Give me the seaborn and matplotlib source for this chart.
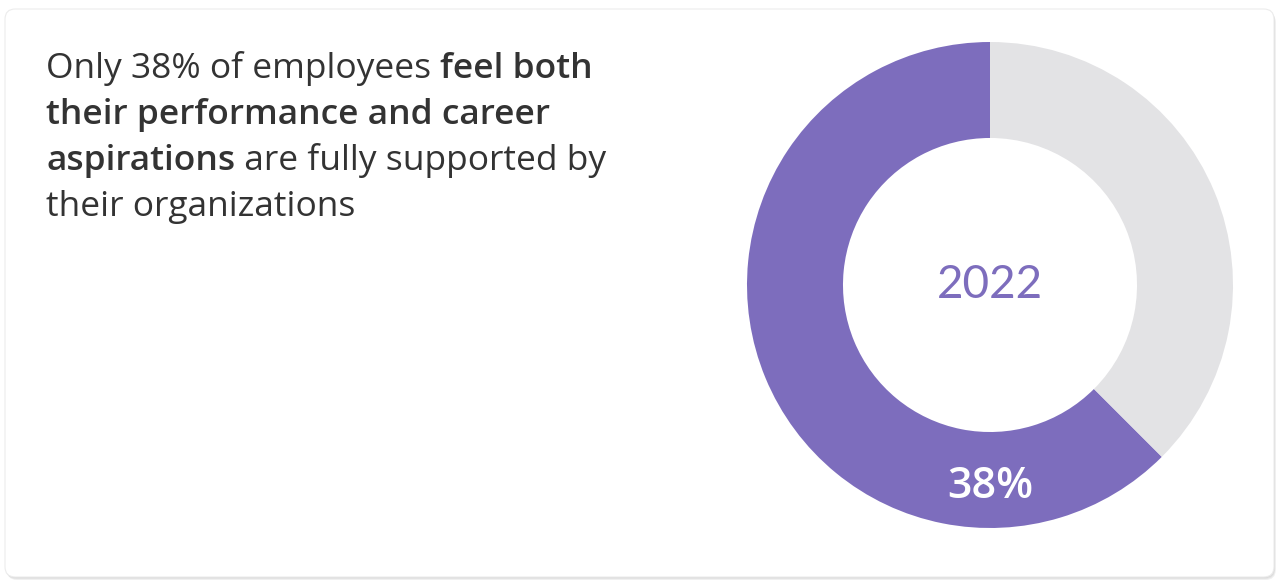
import matplotlib
matplotlib.use("Agg")
import matplotlib.pyplot as plt
import seaborn as sns
from matplotlib.patches import FancyBboxPatch

# data
segments = ["supported", "rest"]
shares = [62.5, 37.5]
seg_colors = ["#7d6dbd", "#e3e3e5"]
center_label = "2022"
segment_label = "38%"

headline = [
    [("Only 38% of employees ", "normal"), ("feel both", "semibold")],
    [("their performance and career", "semibold")],
    [("aspirations", "semibold"), (" are fully supported by", "normal")],
    [("their organizations", "normal")],
]

sns.set_theme(style="white")
plt.rcParams["font.family"] = ["Lato", "DejaVu Sans"]

W, H = 1280, 586
fig = plt.figure(figsize=(W / 100, H / 100), dpi=100)
fig.patch.set_facecolor("white")

# card with soft shadow
for i, a in enumerate([0.05, 0.05, 0.06]):
    sh = FancyBboxPatch((5 / W + (i + 1) * 0.6 / W, 9 / H - (i + 1) * 1.0 / H),
                        1269 / W, 568 / H,
                        boxstyle="round,pad=0,rounding_size=0.008",
                        transform=fig.transFigure, facecolor="black",
                        edgecolor="none", alpha=a, zorder=0,
                        mutation_aspect=W / H)
    fig.patches.append(sh)
card = FancyBboxPatch((5 / W, 9 / H), 1269 / W, 568 / H,
                      boxstyle="round,pad=0,rounding_size=0.008",
                      transform=fig.transFigure, facecolor="white",
                      edgecolor="#ececec", linewidth=0.8, zorder=1,
                      mutation_aspect=W / H)
fig.patches.append(card)

# donut
cx, cy, r = 990, 285, 243
ax = fig.add_axes([(cx - r) / W, (H - cy - r) / H, 2 * r / W, 2 * r / H])
ax.set_zorder(2)
wedges, _ = ax.pie(shares, colors=seg_colors, startangle=90, counterclock=True,
                   radius=1, wedgeprops=dict(width=0.395, edgecolor="none"))
ax.set_xlim(-1, 1)
ax.set_ylim(-1, 1)
ax.set_aspect("equal")
ax.axis("off")
ax.text(0, 0, center_label, ha="center", va="center", fontsize=33,
        color="#7d6dbd")
ax.text(0, -0.83, segment_label, ha="center", va="center", fontsize=31,
        color="white", fontweight="semibold", family=["Open Sans", "DejaVu Sans"])

# headline with mixed weights
renderer = fig.canvas.get_renderer()
x0 = 46
baselines = [78, 124, 170, 216]
for line, yb in zip(headline, baselines):
    x = x0
    for txt, wt in line:
        t = fig.text(x / W, 1 - yb / H, txt, fontsize=25.5, color="#333333",
                     fontweight=wt, ha="left", va="baseline", zorder=3,
                     family=["Open Sans", "DejaVu Sans"])
        bb = t.get_window_extent(renderer=renderer)
        x = bb.x1

fig.savefig("out.png", dpi=100, facecolor="white")
